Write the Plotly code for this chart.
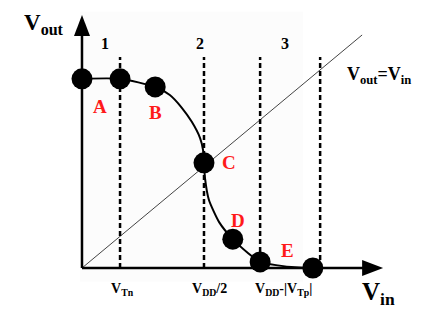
import plotly.graph_objects as go

# --- data (Vin, Vout in volts) ---
curve_vin = [0.0, 0.78, 1.50, 1.80, 2.05, 2.25, 2.42, 2.48, 2.50, 2.52, 2.60, 2.81, 3.09, 3.40, 3.65, 4.16, 4.73]
curve_vout = [4.66, 4.66, 4.46, 4.26, 3.94, 3.60, 3.20, 2.91, 2.59, 2.22, 1.68, 1.13, 0.71, 0.37, 0.15, 0.04, 0.0]

point_vin = [0.0, 0.78, 1.50, 2.50, 3.09, 3.65, 4.73]
point_vout = [4.66, 4.66, 4.46, 2.59, 0.71, 0.15, 0.0]

point_labels = ["A", "B", "C", "D", "E"]
label_vin = [0.37, 1.50, 3.01, 3.20, 4.22]
label_vout = [3.97, 3.82, 2.59, 1.18, 0.42]

region_lines_vin = [0.78, 2.50, 3.65, 4.88]
region_top = 5.2
region_names = ["1", "2", "3"]
region_name_vin = [0.47, 2.42, 4.16]
region_name_vout = 5.54

tick_labels = ["V<sub>Tn</sub>", "V<sub>DD</sub>/2", "V<sub>DD</sub>-|V<sub>Tp</sub>|"]
tick_vin = [0.82, 2.62, 4.12]
tick_vout = -0.52

diag_end = 5.74
axis_end_x = 6.17
axis_end_y = 6.23

fig = go.Figure()

# faint background panel
fig.add_shape(type="rect", x0=-0.04, x1=4.53, y0=-0.34, y1=6.31,
              fillcolor="#fcfcfc", line=dict(width=0), layer="below")

# diagonal Vout = Vin
fig.add_trace(go.Scatter(x=[0, diag_end], y=[0, diag_end], mode="lines",
                         line=dict(color="#444444", width=1), hoverinfo="skip"))

# dashed region boundaries
for xv in region_lines_vin:
    fig.add_trace(go.Scatter(x=[xv, xv], y=[0, region_top], mode="lines",
                             line=dict(color="black", width=2.5, dash="5px,3px"),
                             hoverinfo="skip"))

# axes
fig.add_trace(go.Scatter(x=[0, 0], y=[0, axis_end_y - 0.3], mode="lines",
                         line=dict(color="black", width=2.5), hoverinfo="skip"))
fig.add_trace(go.Scatter(x=[0, axis_end_x - 0.3], y=[0, 0], mode="lines",
                         line=dict(color="black", width=2.5), hoverinfo="skip"))
fig.add_shape(type="path", xref="x", yref="y", xsizemode="pixel", ysizemode="pixel",
              xanchor=0, yanchor=axis_end_y, path="M-8,-21 L8,-21 L0,0 Z",
              fillcolor="black", line=dict(width=0))
fig.add_shape(type="path", xref="x", yref="y", xsizemode="pixel", ysizemode="pixel",
              xanchor=axis_end_x, yanchor=0, path="M-21,-8 L-21,8 L0,0 Z",
              fillcolor="black", line=dict(width=0))

# transfer curve
fig.add_trace(go.Scatter(x=curve_vin, y=curve_vout, mode="lines",
                         line=dict(color="black", width=2, shape="spline", smoothing=0.6),
                         hoverinfo="skip"))
fig.add_trace(go.Scatter(x=point_vin, y=point_vout, mode="markers",
                         marker=dict(color="black", size=21), hoverinfo="skip"))

serif = "Liberation Serif"
for t, xv, yv in zip(point_labels, label_vin, label_vout):
    fig.add_annotation(x=xv, y=yv, text="<b>" + t + "</b>", showarrow=False,
                       font=dict(family=serif, size=19, color="#ff1a1a"))
for t, xv in zip(region_names, region_name_vin):
    fig.add_annotation(x=xv, y=region_name_vout, text="<b>" + t + "</b>", showarrow=False,
                       font=dict(family=serif, size=16, color="black"))
for t, xv in zip(tick_labels, tick_vin):
    fig.add_annotation(x=xv, y=tick_vout, text="<b>" + t + "</b>", showarrow=False,
                       font=dict(family=serif, size=14, color="black"))

fig.add_annotation(x=-0.78, y=6.0, text="<b>V<sub>out</sub></b>", showarrow=False,
                   font=dict(family=serif, size=23, color="black"))
fig.add_annotation(x=6.08, y=-0.62, text="<b>V<sub>in</sub></b>", showarrow=False,
                   font=dict(family=serif, size=25, color="black"))
fig.add_annotation(x=6.09, y=4.75, text="<b>V<sub>out</sub>=V<sub>in</sub></b>", showarrow=False,
                   font=dict(family=serif, size=18, color="black"))

fig.update_layout(
    width=434, height=314, margin=dict(l=0, r=0, t=0, b=0),
    paper_bgcolor="white", plot_bgcolor="white", showlegend=False,
    xaxis=dict(range=[-1.680, 7.213], visible=False, fixedrange=True),
    yaxis=dict(range=[-1.133, 6.601], visible=False, fixedrange=True),
)

fig.write_html("out.html")
